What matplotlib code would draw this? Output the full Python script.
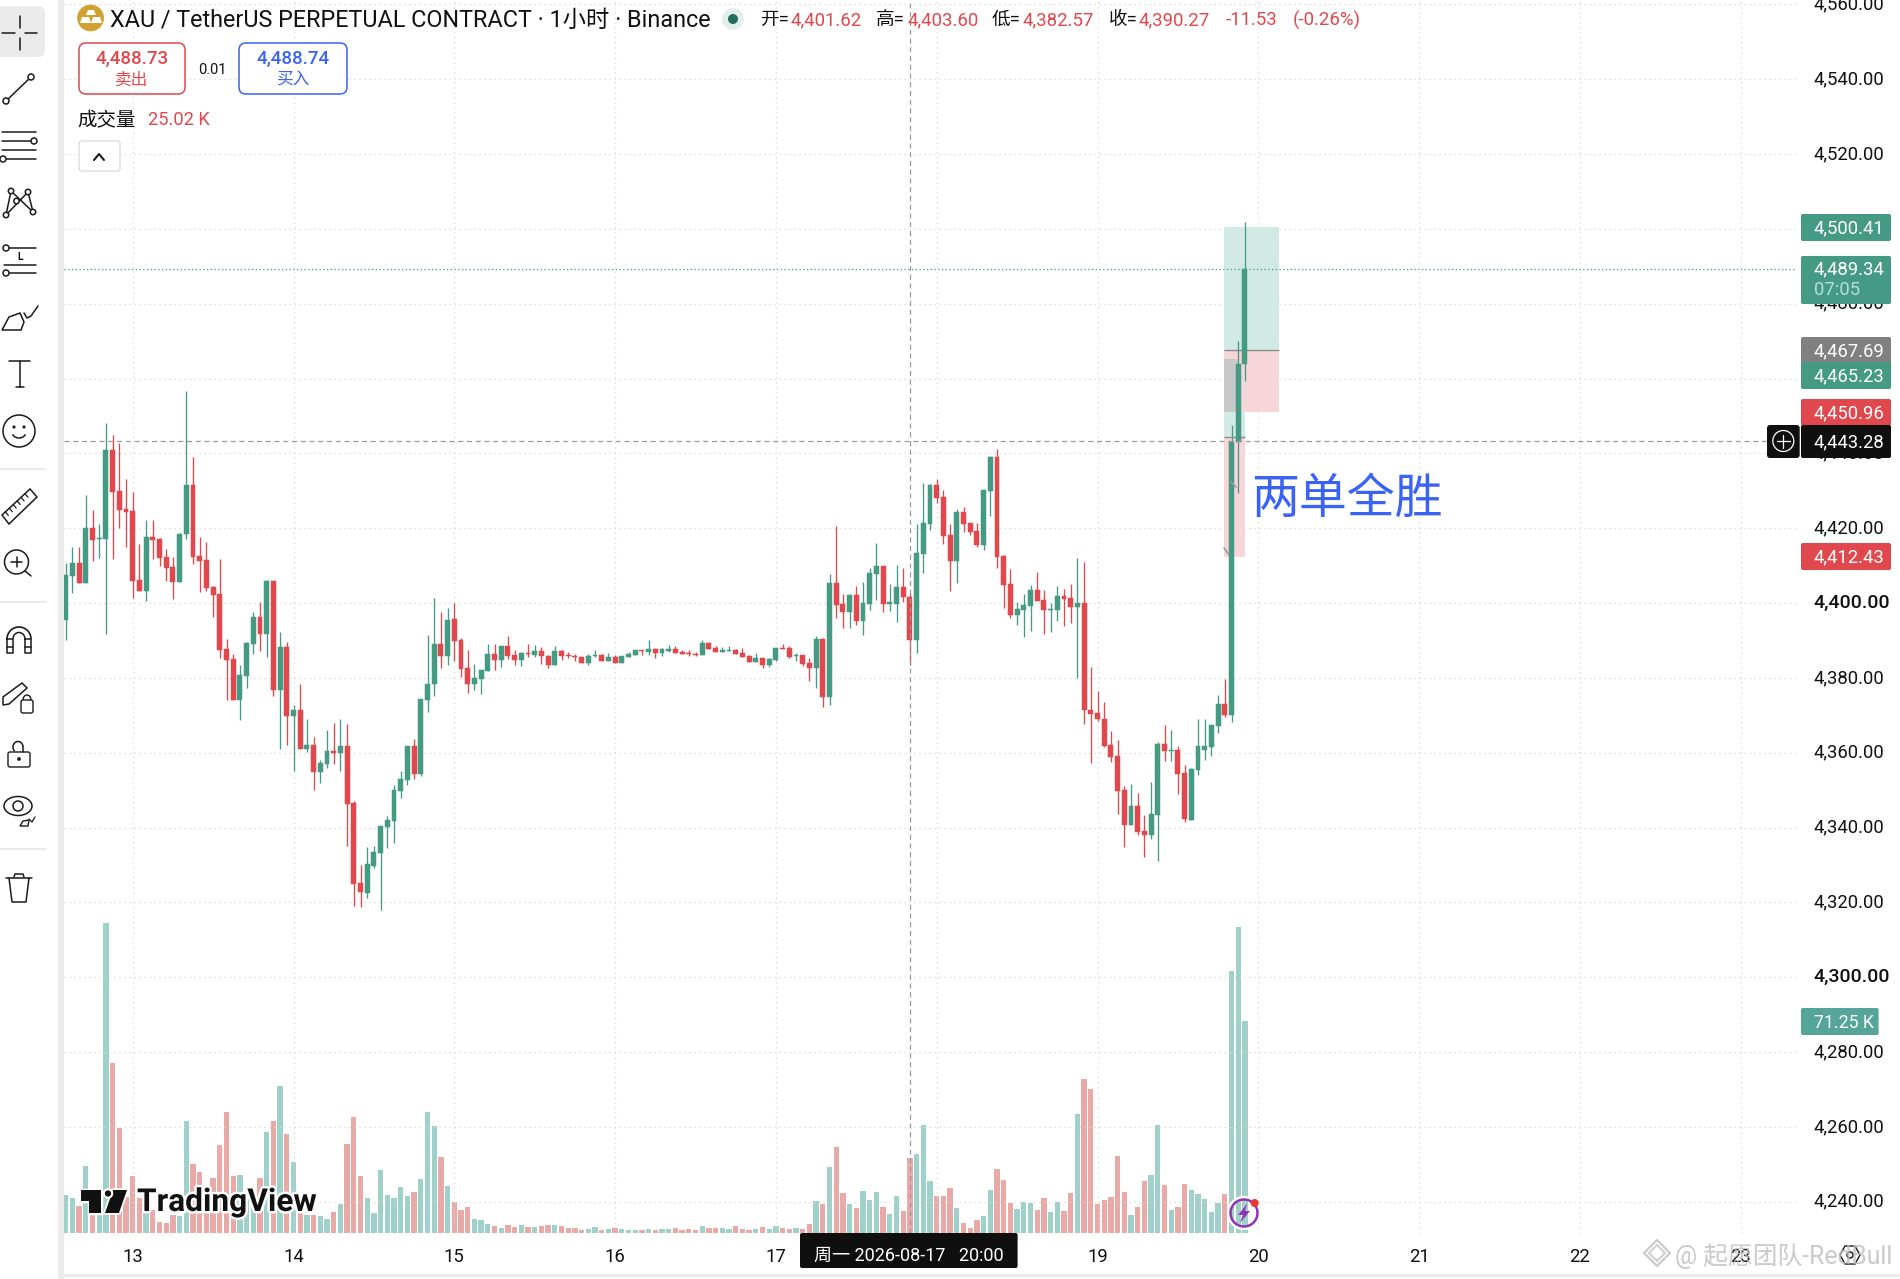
import numpy as np
import matplotlib
matplotlib.use("Agg")
import matplotlib.pyplot as plt
import matplotlib.patheffects as pe
from matplotlib.patches import FancyBboxPatch, Rectangle, Circle, Polygon, Ellipse, Arc
from matplotlib.transforms import ScaledTranslation

FONT = ['Roboto', 'Noto Sans CJK SC', 'DejaVu Sans']
plt.rcParams['font.family'] = FONT

opens = [4395.5,4407.3,4410.8,4405.5,4420.1,4417.2,4417.1,4441.0,4430.0,4425.2,4424.7,4406.2,4403.3,4417.7,4417.1,4412.4,4409.7,4405.6,4418.5,4431.6,
 4412.6,4411.5,4404.4,4402.5,4387.8,4385.1,4374.2,4380.6,4389.1,4396.3,4391.7,4405.9,4376.8,4388.3,4369.8,4371.5,4361.1,4362.1,4354.9,4357.0,
 4360.5,4360.0,4361.8,4346.7,4325.2,4322.5,4329.8,4333.3,4340.2,4341.8,4349.9,4352.8,4361.8,4354.4,4374.2,4378.4,4389.1,4386.0,4395.8,4390.2,
 4382.7,4378.4,4379.8,4381.9,4386.5,4384.9,4388.6,4386.2,4384.9,4386.7,4386.2,4387.3,4385.9,4383.5,4387.3,4386.2,4385.9,4385.7,4384.1,4385.9,
 4386.2,4384.6,4385.7,4384.1,4385.7,4386.2,4387.5,4387.0,4387.8,4386.7,4387.3,4387.8,4387.0,4386.7,4386.5,4386.2,4389.4,4388.1,4387.0,4387.3,
 4387.5,4386.7,4385.9,4384.3,4385.4,4383.5,4384.9,4388.1,4388.1,4385.9,4386.2,4384.1,4382.7,4390.5,4375.0,4405.4,4399.8,4397.7,4402.2,4395.3,
 4399.8,4407.8,4410.0,4399.9,4399.9,4404.4,4401.7,4390.2,4413.2,4421.2,4431.6,4428.4,4418.3,4411.3,4424.4,4421.5,4419.3,4415.6,4430.0,4439.1,
 4412.7,4405.2,4396.9,4398.2,4399.3,4403.6,4400.9,4398.2,4398.2,4402.0,4401.4,4399.0,4400.1,4371.5,4370.7,4369.1,4362.1,4359.2,4350.1,4340.8,
 4345.8,4339.2,4338.1,4343.4,4362.4,4360.5,4360.8,4354.7,4342.1,4355.5,4360.8,4361.6,4367.2,4373.1,4370.2,4443.1,4463.9]
closes = [4407.6,4410.8,4405.5,4420.1,4416.9,4417.4,4441.0,4429.8,4425.0,4424.4,4405.9,4403.3,4417.7,4416.9,4412.1,4409.4,4405.6,4418.5,4431.6,4412.4,
 4411.3,4404.1,4402.2,4387.5,4384.8,4374.2,4380.8,4389.4,4396.3,4391.7,4405.9,4376.8,4388.3,4369.8,4371.5,4361.1,4362.1,4354.9,4357.3,4360.5,
 4360.0,4361.8,4346.4,4325.0,4322.8,4330.4,4333.5,4340.5,4342.1,4350.1,4353.0,4361.8,4354.4,4374.4,4378.4,4389.1,4386.0,4395.5,4389.9,4382.5,
 4378.4,4380.1,4382.2,4386.5,4384.9,4388.6,4385.9,4384.9,4386.7,4386.5,4387.3,4385.9,4383.5,4387.3,4385.9,4385.9,4385.7,4384.1,4385.9,4386.1,
 4384.6,4385.7,4384.1,4385.9,4386.5,4387.5,4387.3,4387.8,4386.7,4387.8,4387.8,4386.7,4386.5,4386.5,4386.2,4389.4,4387.8,4387.0,4387.5,4387.5,
 4386.5,4385.7,4384.3,4385.4,4383.5,4385.1,4388.1,4387.8,4385.7,4386.2,4383.8,4382.7,4390.5,4375.0,4405.4,4399.6,4397.7,4402.2,4395.3,4400.1,
 4408.1,4410.0,4399.8,4400.4,4404.4,4401.7,4390.2,4413.5,4421.5,4431.6,4428.2,4418.0,4411.3,4424.4,4421.2,4419.1,4415.6,4430.3,4439.1,4412.4,
 4404.9,4396.9,4398.5,4399.6,4403.6,4400.6,4398.2,4398.5,4402.0,4401.2,4399.0,4400.1,4371.5,4370.4,4369.1,4361.9,4358.9,4349.8,4340.8,4345.8,
 4338.9,4338.1,4343.7,4362.4,4360.5,4360.8,4354.4,4342.4,4355.7,4361.9,4361.9,4367.5,4373.1,4370.2,4443.1,4464.0,4489.34]
highs = [4410.8,4415.0,4415.0,4428.9,4425.0,4421.2,4448.2,4444.9,4442.8,4433.3,4429.8,4415.9,4422.2,4422.2,4417.4,4414.5,4412.4,4418.8,4456.7,4439.1,
 4417.7,4416.4,4404.6,4411.8,4390.5,4386.4,4383.5,4389.5,4397.6,4400.3,4406.2,4405.9,4392.3,4389.6,4372.8,4378.4,4369.1,4364.2,4358.2,4366.2,
 4368.0,4369.1,4367.7,4347.2,4330.1,4334.9,4335.1,4340.5,4343.2,4351.4,4355.2,4361.8,4363.8,4374.4,4391.6,4401.4,4397.6,4398.7,4400.0,4390.7,
 4387.5,4383.7,4382.2,4389.1,4389.1,4388.6,4391.3,4387.5,4387.0,4389.1,4388.9,4388.3,4386.2,4388.6,4387.5,4387.0,4386.5,4385.7,4386.5,4387.5,
 4386.5,4386.7,4386.2,4385.9,4387.0,4387.5,4387.5,4390.2,4388.1,4388.1,4388.9,4388.6,4387.5,4387.5,4387.0,4390.2,4389.7,4388.6,4388.3,4388.6,
 4387.8,4388.1,4386.2,4386.7,4385.4,4385.4,4388.1,4389.1,4388.6,4386.7,4386.2,4385.4,4391.3,4390.7,4407.8,4420.5,4402.5,4402.5,4404.6,4405.7,
 4409.4,4416.0,4410.0,4405.2,4410.2,4409.4,4402.7,4421.2,4432.2,4431.9,4433.2,4430.3,4421.2,4425.2,4425.7,4421.5,4421.5,4430.3,4439.4,4441.2,
 4412.9,4409.2,4400.4,4402.5,4404.9,4408.4,4403.6,4400.1,4404.6,4403.8,4405.2,4412.1,4411.0,4383.0,4376.6,4373.6,4365.9,4363.5,4351.2,4351.7,
 4349.3,4343.4,4352.2,4362.9,4367.5,4366.1,4361.9,4356.8,4356.0,4369.1,4369.1,4367.5,4375.5,4379.8,4447.6,4470.1,4501.9]
lows = [4390.2,4402.8,4405.5,4405.5,4411.3,4412.1,4391.7,4411.8,4420.1,4415.0,4401.3,4403.3,4400.6,4411.8,4410.0,4405.9,4401.1,4405.6,4417.1,4410.5,
 4403.0,4403.3,4396.3,4385.4,4374.2,4374.2,4368.8,4377.4,4386.4,4387.2,4385.7,4375.2,4361.1,4362.1,4355.2,4361.1,4360.3,4350.1,4352.0,4355.9,
 4357.0,4355.2,4335.1,4319.1,4318.9,4321.3,4329.3,4318.0,4334.6,4336.0,4347.9,4351.4,4353.0,4353.8,4370.9,4375.2,4382.7,4383.5,4384.6,4380.3,
 4376.0,4376.8,4375.8,4381.9,4382.2,4383.0,4385.1,4383.5,4383.3,4385.7,4385.7,4383.8,4382.7,4383.5,4384.9,4385.4,4384.6,4384.1,4383.5,4385.7,
 4384.6,4384.6,4384.1,4384.1,4385.7,4386.2,4386.2,4386.2,4385.4,4385.9,4387.0,4386.7,4386.5,4385.9,4385.9,4386.2,4387.8,4387.0,4387.0,4387.3,
 4386.5,4385.7,4384.3,4384.3,4382.7,4383.0,4384.6,4387.8,4385.4,4384.6,4383.3,4379.2,4377.4,4372.3,4372.8,4396.1,4393.4,4393.4,4394.2,4391.5,
 4398.2,4400.9,4397.7,4398.0,4395.0,4400.4,4383.5,4386.7,4408.1,4419.6,4426.8,4415.9,4403.3,4405.4,4419.1,4418.3,4415.1,4414.3,4423.3,4409.4,
 4398.8,4396.1,4394.2,4391.0,4392.6,4400.6,4391.8,4392.3,4395.3,4393.9,4394.7,4380.0,4367.7,4357.3,4368.6,4361.6,4357.6,4343.7,4334.9,4340.8,
 4338.1,4332.2,4337.0,4331.1,4357.9,4357.9,4349.0,4341.6,4342.1,4354.1,4358.1,4359.2,4365.3,4369.6,4368.3,4429.5,4459.4]
volumes = [12.8,11.8,9.1,22.5,7.7,7.7,104.2,57.1,35.3,12.2,19.2,11.8,10.0,7.7,3.7,3.4,6.0,5.7,37.6,23.2,
 20.5,14.4,18.5,29.6,40.7,19.2,19.5,13.3,12.2,18.5,33.9,37.6,49.4,33.3,23.9,6.6,6.0,6.0,5.7,4.7,
 7.1,9.7,29.9,39.0,19.2,11.8,6.7,21.2,12.8,11.8,15.5,12.4,13.8,18.1,40.7,36.0,25.5,15.8,10.4,7.7,
 8.7,4.7,4.4,3.0,2.4,1.7,2.7,2.0,2.7,2.0,2.0,2.4,2.7,2.7,2.4,1.7,1.7,1.0,1.3,2.0,
 1.0,1.3,1.7,1.3,1.0,1.0,1.0,1.3,1.0,1.3,1.3,1.7,1.0,1.3,1.0,2.4,1.7,1.7,1.7,1.3,
 2.4,1.3,1.0,1.3,2.0,1.3,2.4,1.7,1.3,1.7,1.3,3.0,10.8,9.7,22.2,28.9,13.4,9.7,8.4,14.1,
 11.1,13.8,8.7,6.4,12.4,7.4,25.2,26.5,36.3,17.5,12.4,12.4,15.1,8.4,3.4,1.7,4.4,5.7,14.4,21.5,
 17.8,10.1,8.1,10.4,10.1,7.7,11.8,7.1,10.4,7.4,13.4,40.0,51.7,48.4,9.7,11.1,12.1,25.9,13.8,6.0,
 8.7,17.5,19.5,36.3,16.1,7.7,8.7,16.5,14.4,13.1,11.4,7.1,10.1,13.1,88.0,102.8,71.25]

price_ticks = [4240,4260,4280,4300,4320,4340,4360,4380,4400,4420,4440,4460,4480,4500,4520,4540,4560]
bold_ticks = [4300, 4400]
day_labels = ['13','14','15','16','17','18','19','20','21','22','23']
day_bars = [11,35,59,83,107,131,155,179,203,227,251]
pos_a = dict(top=4500.41, entry=4467.69, stop=4450.96)
pos_b = dict(top=4465.23, entry=4444.5, stop=4412.43)
crosshair_price, crosshair_bar = 4443.28, 127
last_price = 4489.34

GREEN, RED = '#459A84', '#E0484D'
VGREEN, VRED = '#A0D0CA', '#E9A9A7'
GRID = '#D6D6D6'
BLUE = '#3A62F5'

W, H = 1900, 1279
fig = plt.figure(figsize=(W/100, H/100), dpi=100, facecolor='white')
rect = [64/W, (H-1233)/H, (1797-64)/W, 1233/H]
XL = ((64-65.7)/6.7+1, (1797-65.7)/6.7+1)
YL = (4300+(977.3-1233)/3.7417, 4300+977.3/3.7417)

n = len(closes)
x = np.arange(1, n+1)
o, c, hi, lo, v = map(np.array, (opens, closes, highs, lows, volumes))
up = c >= o

axv = fig.add_axes(rect, zorder=1)
axv.set_xlim(*XL); axv.set_ylim(0, 1233*71.25/212)
axv.axis('off')
axv.bar(x, v, width=0.8, color=np.where(up, VGREEN, VRED), linewidth=0)

ax = fig.add_axes(rect, zorder=2)
ax.patch.set_alpha(0)
ax.set_xlim(*XL); ax.set_ylim(*YL)
for s in ax.spines.values():
    s.set_visible(False)
ax.grid(True, color=GRID, linestyle=(0, (1, 3)), linewidth=0.9, zorder=0)
ax.set_axisbelow(True)
ax.yaxis.tick_right()
ax.set_yticks(price_ticks)
ax.set_yticklabels([f'{p:,.2f}' for p in price_ticks], fontsize=13.3, color='#111111')
ax.set_xticks(day_bars)
ax.set_xticklabels(day_labels, fontsize=13.3, color='#111111')
ax.tick_params(axis='y', length=0, pad=11.7)
ax.tick_params(axis='x', length=0, pad=10.5)
lift = ScaledTranslation(0, 2/100, fig.dpi_scale_trans)
for lab, p in zip(ax.get_yticklabels(), price_ticks):
    lab.set_transform(lab.get_transform() + lift)
    if p in bold_ticks:
        lab.set_fontweight('medium'); lab.set_fontsize(14)

# position zones
def zone(x0, x1, y0, y1, col):
    ax.add_patch(Rectangle((x0, y0), x1-x0, y1-y0, fc=col, ec='none', zorder=1))
zone(173.9, 182.1, pos_a['entry'], pos_a['top'], '#D2EAE5')
zone(173.9, 182.1, pos_a['stop'], pos_a['entry'], '#F6D6D8')
zone(173.9, 177.0, pos_b['entry'], pos_a['stop'], '#D2EAE5')
zone(173.9, 177.0, pos_b['stop'], pos_b['entry'], '#F6D6D8')
zone(173.9, 176.0, pos_a['stop'], pos_b['top'], '#C8C8C8')
ax.hlines(pos_a['entry'], 173.9, 182.1, color='#8A8A8A', lw=1, zorder=1.5)
ax.hlines(pos_b['entry'], 173.9, 177.0, color='#8A8A8A', lw=1, zorder=1.5)

ax.axhline(last_price, color=GREEN, ls=(0, (1, 2)), lw=0.9, zorder=1.6)
ax.axhline(crosshair_price, color='#9A9A9A', ls=(0, (4, 3)), lw=0.9, zorder=5, xmax=(1766-64)/(1797-64))
ax.axvline(crosshair_bar, color='#9A9A9A', ls=(0, (4, 3)), lw=0.9, zorder=5)

cols = np.where(up, GREEN, RED)
ax.vlines(x, lo, hi, colors=cols, lw=0.95, zorder=3)
ax.bar(x, np.abs(c-o), bottom=np.minimum(o, c), width=0.72, color=cols, edgecolor=cols, linewidth=0.35, zorder=4)

ax.text(178.0, 4427.8, '两单全胜', fontsize=34.5, color=BLUE, family=['Noto Sans CJK SC'], va='center', ha='left', zorder=6)

# interface layer, in pixels
ui = fig.add_axes([0, 0, 1, 1], zorder=5)
ui.set_xlim(0, W); ui.set_ylim(H, 0); ui.axis('off'); ui.patch.set_alpha(0)
INK = '#1A1A1A'

def rbox(x0, y0, x1, y1, fc='none', ec='none', r=2, lw=1.0, z=2):
    ui.add_patch(FancyBboxPatch((x0, y0), x1-x0, y1-y0, boxstyle=f'round,pad=0,rounding_size={r}', fc=fc, ec=ec, lw=lw, zorder=z))
def line(xs, ys, col=INK, lw=1.1, z=3):
    ui.plot(xs, ys, color=col, lw=lw, zorder=z, solid_capstyle='round')
def circ(cx, cy, r, ec=INK, fc='white', lw=1.1, z=4):
    ui.add_patch(Circle((cx, cy), r, fc=fc, ec=ec, lw=lw, zorder=z))
def T(px, py, s, size=13, col='#111111', ha='left', va='center', z=6, **kw):
    return ui.text(px, py, s, fontsize=size, color=col, ha=ha, va=va, zorder=z, **kw)

# small drag marks on the two zones
line([1231, 1236], [482, 487], col='#9A9A9A', lw=1.2)
line([1224, 1229], [548, 555], col='#9A9A9A', lw=1.2)

# left bar
ui.add_patch(Rectangle((0, 0), 58, H, fc='white', ec='none', zorder=1))
ui.add_patch(Rectangle((58, 0), 6, H, fc='#ECECEC', ec='none', zorder=1))
ui.add_patch(Rectangle((64, 1274), W, 3, fc='#ECECEC', ec='none', zorder=1))
rbox(-6, 6, 45, 57, fc='#EBEBEB', r=7)
line([20, 20], [16, 28]); line([20, 20], [38, 50]); line([2, 15], [33, 33]); line([25, 37], [33, 33])
line([6, 31], [101, 77]); circ(6, 101, 3); circ(31, 77, 3)
for yy in (132, 141, 150, 159):
    line([2, 36], [yy, yy])
circ(34, 141, 3); circ(3, 159, 3)
pts = [(6, 215), (11, 191), (33, 212), (28, 192), (6, 215)]
line([p[0] for p in pts], [p[1] for p in pts])
for p in pts[:4] + [(16.5, 201)]:
    circ(p[0], p[1], 2.7)
line([9, 36], [248, 248]); circ(6, 248, 3); line([9, 36], [273, 273]); line([4, 36], [265, 265]); circ(6, 273, 3)
T(20, 257, 'L', size=7.5, ha='center', fontweight='bold')
ui.add_patch(Polygon([(2, 330), (9, 317), (20, 313), (24, 322), (21, 330)], closed=True, fc='none', ec=INK, lw=1.1, zorder=3))
line([24, 27, 31, 38], [313, 318, 316, 306])
line([9, 30], [361, 361]); line([20, 20], [361, 387]); line([16, 24], [387, 387])
circ(19, 431, 16); circ(14, 427, 0.8, fc=INK); circ(24, 427, 0.8, fc=INK)
ui.add_patch(Arc((19, 432), 14, 12, theta1=20, theta2=160, ec=INK, lw=1.1, zorder=5))
for yy in (469, 602, 849):
    line([0, 46], [yy, yy], col='#E8E8E8', lw=1.3)
ui.add_patch(Polygon([(2, 515), (30, 489), (37, 497), (9, 524)], closed=True, fc='none', ec=INK, lw=1.1, zorder=3))
for t in np.arange(0.12, 0.95, 0.14):
    line([2+28*t, 2+28*t+3], [515-26*t, 515-26*t+3.5], lw=0.9)
circ(16.5, 562, 12, fc='none'); line([25, 31], [571, 576]); line([11, 22], [562, 562]); line([16.5, 16.5], [557, 567])
ui.add_patch(Arc((19, 639), 24, 24, theta1=180, theta2=360, ec=INK, lw=1.2, zorder=3))
ui.add_patch(Arc((19, 639), 12, 13, theta1=180, theta2=360, ec=INK, lw=1.1, zorder=3))
line([7, 7, 13, 13, 7], [639, 653, 653, 639, 639]); line([25, 25, 31, 31, 25], [639, 653, 653, 639, 639]); line([7, 13], [647, 647]); line([25, 31], [647, 647])
ui.add_patch(Polygon([(3, 697), (22, 683), (27, 688), (9, 704), (3, 705)], closed=True, fc='none', ec=INK, lw=1.1, zorder=3))
rbox(21, 700, 33, 713, ec=INK, r=2, z=3); ui.add_patch(Arc((27, 700), 8, 10, theta1=180, theta2=360, ec=INK, lw=1, zorder=3))
rbox(8, 752, 30, 767, ec=INK, r=2, z=3); ui.add_patch(Arc((18, 747), 10, 11, theta1=130, theta2=360, ec=INK, lw=1.1, zorder=3)); line([23, 23], [747, 752]); circ(19, 759, 1.1, fc=INK)
ui.add_patch(Ellipse((18, 806), 28, 19, fc='none', ec=INK, lw=1.1, zorder=3)); circ(18, 806, 5)
ui.add_patch(Polygon([(20, 826), (23, 821), (29, 820), (28, 826)], closed=True, fc='none', ec=INK, lw=1, zorder=3)); line([29, 32, 35], [819, 822, 817], lw=0.9)
line([6, 32], [878, 878]); line([9, 12, 26, 29], [878, 902, 902, 878]); line([14, 15, 23, 24], [877, 874, 874, 877])

# header
circ(90.6, 18, 13, ec='#D0A030', fc='#D0A030', lw=0.5)
ui.add_patch(Polygon([(88, 10), (94, 10), (96, 15), (86, 15)], closed=True, fc='white', ec='none', zorder=5))
ui.add_patch(Polygon([(82, 17), (89, 17), (91, 23), (80, 23)], closed=True, fc='white', ec='none', zorder=5))
ui.add_patch(Polygon([(93, 17), (100, 17), (102, 23), (91, 23)], closed=True, fc='white', ec='none', zorder=5))
T(110, 20, 'XAU / TetherUS PERPETUAL CONTRACT · 1小时 · Binance', size=16.8)
circ(733, 19, 11, ec='none', fc='#E3EFED', lw=0); circ(733, 19, 5, ec='none', fc='#1F6F5C', lw=0)
for px, s, col in [(760, '开=', '#111111'), (791, '4,401.62', RED), (876, '高=', '#111111'), (907.6, '4,403.60', RED),
                   (992, '低=', '#111111'), (1023, '4,382.57', RED), (1109, '收=', '#111111'), (1139, '4,390.27', RED),
                   (1226, '-11.53', RED), (1293, '(-0.26%)', RED)]:
    T(px, 20, s, size=13.4, col=col)

rbox(79, 43, 185, 94, ec=RED, r=7, lw=1.1, fc='white')
T(132, 59, '4,488.73', size=13.5, col=RED, ha='center', fontweight='medium')
T(132, 80, '卖出', size=12, col=RED, ha='center')
T(212, 70, '0.01', size=10.5, ha='center')
rbox(239, 43, 347, 94, ec=BLUE, r=7, lw=1.1, fc='white')
T(293, 59, '4,488.74', size=13.5, col=BLUE, ha='center', fontweight='medium')
T(293, 80, '买入', size=12, col=BLUE, ha='center')
T(77, 121, '成交量', size=14)
T(148, 120, '25.02 K', size=13.2, col=RED)
rbox(79, 141, 120, 171, ec='#DDDDDD', r=3, lw=1, fc='white')
line([94, 99, 104], [160, 154, 160], lw=1.5)

# price tags
def tag(y0, y1, s, col, sub=None, x0=1801, x1=1891, tcol='white', tx=1813.6, size=13.3, dy=0.5):
    rbox(x0, y0, x1, y1, fc=col, r=2, z=4)
    if sub:
        T(tx, y0+13, s, size=size, col=tcol); T(tx, y0+34, sub, size=size, col='#B7DED6')
    else:
        T(tx, (y0+y1)/2+dy, s, size=size, col=tcol)
tag(214, 241, '4,500.41', GREEN)
tag(256, 304, '4,489.34', GREEN, sub='07:05')
tag(337, 364, '4,467.69', '#808080')
tag(362, 389, '4,465.23', GREEN)
tag(399, 426, '4,450.96', RED)
tag(543, 570, '4,412.43', RED)
rbox(1767, 425, 1799.7, 458, fc='#0F0F0F', r=3, z=4)
tag(425, 458, '4,443.28', '#0F0F0F')
circ(1783.3, 441, 10.5, ec='white', fc='none', lw=0.9, z=7)
line([1777, 1790], [441, 441], col='white', lw=0.9, z=7); line([1783.3, 1783.3], [434.5, 447.5], col='white', lw=0.9, z=7)
tag(1008, 1035, '71.25 K', '#55A598', x1=1878.6, size=12.8, dy=1.5)

# date tooltip
rbox(800, 1233, 1017.6, 1268, fc='#0F0F0F', r=2, z=4)
T(909, 1255.5, '周一 2026-08-17   20:00', size=13, col='white', ha='center')

# TradingView logo
halo = [pe.withStroke(linewidth=3.5, foreground='white')]
for poly in ([(81, 1190), (101, 1190), (101, 1213), (89, 1213), (89, 1201), (81, 1201)],
             [(127, 1190), (113, 1190), (105, 1213), (119, 1213)]):
    ui.add_patch(Polygon(poly, closed=True, fc='#111111', ec='white', lw=2.5, zorder=4))
    ui.add_patch(Polygon(poly, closed=True, fc='#111111', ec='none', zorder=5))
circ(108, 1193.5, 4.2, ec='white', fc='#111111', lw=1.5, z=5)
T(137, 1202, 'TradingView', size=22.8, col='#111111', fontweight='bold', path_effects=halo)

# lightning badge
circ(1244, 1213, 15, ec='white', fc='none', lw=3, z=4)
ui.add_patch(Arc((1244, 1213), 27, 27, theta1=0, theta2=360, ec='#8E35B5', lw=1.8, zorder=5))
ui.add_patch(Polygon([(1247, 1204), (1238, 1215), (1243, 1215), (1240, 1223), (1250, 1211), (1245, 1211)], closed=True, fc='#8E35B5', ec='none', zorder=6))
circ(1254.7, 1203, 4, ec='none', fc='#E53935', lw=0, z=7)

# corner gear and watermark
ui.add_patch(Polygon([(1840, 1255), (1845, 1246), (1855, 1246), (1860, 1255), (1855, 1264), (1845, 1264)], closed=True, fc='none', ec=INK, lw=1, zorder=3))
circ(1850, 1255, 3, z=3)
for r_, a_ in ((13, 0.45), (8, 0.35)):
    ui.add_patch(Polygon([(1657-r_, 1253), (1657, 1253-r_), (1657+r_, 1253), (1657, 1253+r_)], closed=True, fc='none', ec='#BBBBBB', lw=1.6, alpha=a_+0.3, zorder=7))
T(1675, 1256, '@ 起愿团队-RedBull', size=17.8, col='#BDBDBD', alpha=0.8, z=8)

fig.savefig('out.png', dpi=100, facecolor='white')
